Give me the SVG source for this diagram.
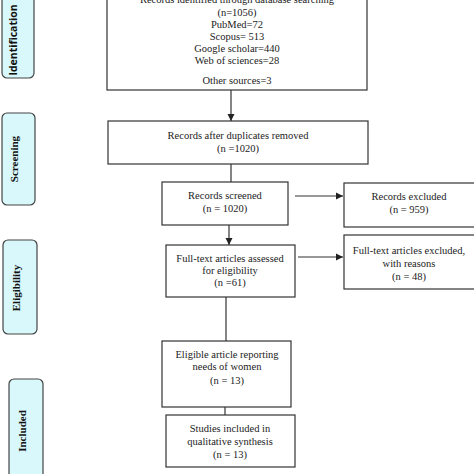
<svg xmlns="http://www.w3.org/2000/svg" width="474" height="474" viewBox="0 0 474 474">
<style>
.box{fill:#fff;stroke:#333;stroke-width:1.2}
.side{fill:#d8f8fb;stroke:#444;stroke-width:1.2}
.t{font-family:"Liberation Serif",serif;font-size:10.5px;fill:#222;text-anchor:middle}
.s{font-family:"Liberation Serif",serif;font-size:11px;font-weight:bold;fill:#111;text-anchor:middle}
.ln{stroke:#333;stroke-width:1.2;fill:none}
</style>
<defs>
<marker id="ah" viewBox="0 0 10 10" refX="10" refY="5" markerWidth="6" markerHeight="6" orient="auto"><path d="M0,0 L10,5 L0,10 z" fill="#222"/></marker>
</defs>
<rect width="474" height="474" fill="#fff"/>
<g id="side-identification"><rect class="side" x="2" y="-10" width="32" height="88" rx="5"/><text class="s" style="font-family:'Open Sans','DejaVu Sans',sans-serif;font-size:10.5px" transform="translate(17,40) rotate(-90)">Identification</text></g>
<g id="side-screening"><rect class="side" x="2" y="113" width="33" height="92" rx="5"/><text class="s" transform="translate(18,159) rotate(-90)">Screening</text></g>
<g id="side-eligibility"><rect class="side" x="3" y="240" width="34" height="94" rx="5"/><text class="s" transform="translate(20,288) rotate(-90)">Eligibility</text></g>
<g id="side-included"><rect class="side" x="9" y="379" width="34" height="110" rx="5"/><text class="s" transform="translate(26,431) rotate(-90)">Included</text></g>

<g id="connectors">
<line class="ln" x1="231" y1="90" x2="231" y2="121" marker-end="url(#ah)"/>
<line class="ln" x1="231" y1="164" x2="231" y2="182"/>
<line class="ln" x1="295" y1="196" x2="343" y2="196" marker-end="url(#ah)"/>
<line class="ln" x1="229" y1="225" x2="229" y2="245" marker-end="url(#ah)"/>
<line class="ln" x1="298" y1="257" x2="343" y2="257" marker-end="url(#ah)"/>
<line class="ln" x1="226" y1="285" x2="226" y2="341"/>
<line class="ln" x1="225" y1="402" x2="225" y2="415"/>
</g>

<g id="n-identified"><rect class="box" x="107" y="-10" width="260" height="100"/>
<text class="t" x="237" y="3">Records identified through database searching</text>
<text class="t" x="237" y="16">(n=1056)</text>
<text class="t" x="237" y="28">PubMed=72</text>
<text class="t" x="237" y="40">Scopus= 513</text>
<text class="t" x="237" y="52">Google scholar=440</text>
<text class="t" x="237" y="64">Web of sciences=28</text>
<text class="t" x="237" y="84">Other sources=3</text></g>

<g id="n-dup"><rect class="box" x="108" y="121" width="260" height="43"/>
<text class="t" x="238" y="139">Records after duplicates removed</text>
<text class="t" x="238" y="152">(n =1020)</text></g>

<g id="n-screened"><rect class="box" x="162" y="182" width="126" height="43"/>
<text class="t" x="225" y="199">Records screened</text>
<text class="t" x="225" y="212">(n = 1020)</text></g>

<g id="n-excluded"><rect class="box" x="344" y="183" width="140" height="44"/>
<text class="t" x="409" y="200">Records excluded</text>
<text class="t" x="409" y="213">(n = 959)</text></g>

<g id="n-fulltext"><rect class="box" x="166" y="245" width="129" height="52"/>
<text class="t" x="230" y="262">Full-text articles assessed</text>
<text class="t" x="230" y="274">for eligibility</text>
<text class="t" x="230" y="286">(n =61)</text></g>

<g id="n-ftexcluded"><rect class="box" x="344" y="235" width="140" height="54"/>
<text class="t" x="409" y="254">Full-text articles excluded,</text>
<text class="t" x="409" y="267">with reasons</text>
<text class="t" x="409" y="280">(n = 48)</text></g>

<g id="n-eligible"><rect class="box" x="162" y="341" width="129" height="66"/>
<text class="t" x="227" y="358">Eligible article reporting</text>
<text class="t" x="227" y="370">needs of women</text>
<text class="t" x="227" y="384">(n = 13)</text></g>

<g id="n-studies"><rect class="box" x="166" y="415" width="129" height="52"/>
<text class="t" x="230" y="432">Studies included in</text>
<text class="t" x="230" y="445">qualitative synthesis</text>
<text class="t" x="230" y="458">(n = 13)</text></g>
</svg>
